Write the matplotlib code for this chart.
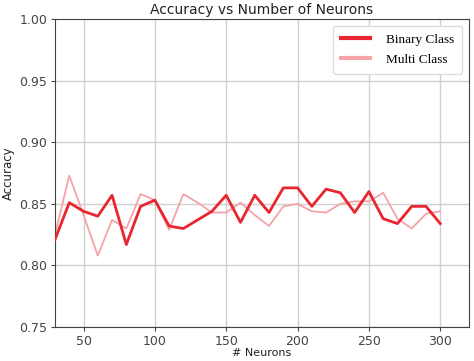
import numpy as np
import matplotlib
matplotlib.use("Agg")
import matplotlib.pyplot as plt

# number of neurons in the hidden layer
neurons = list(range(30, 301, 10))

# accuracy
binary_acc = [0.821, 0.851, 0.844, 0.840, 0.857, 0.817, 0.848, 0.853, 0.832, 0.830,
              0.837, 0.844, 0.857, 0.835, 0.857, 0.843, 0.863, 0.863, 0.848, 0.862,
              0.859, 0.843, 0.860, 0.838, 0.834, 0.848, 0.848, 0.834]
multi_acc = [0.825, 0.873, 0.841, 0.808, 0.837, 0.830, 0.858, 0.853, 0.829, 0.858,
             0.851, 0.843, 0.843, 0.851, 0.841, 0.832, 0.848, 0.850, 0.844, 0.843,
             0.850, 0.852, 0.852, 0.859, 0.838, 0.830, 0.842, 0.844]

fig = plt.figure(figsize=(4.74, 3.61), dpi=100)
ax = fig.add_axes([0.116, 0.094, 0.873, 0.853])

ax.plot(neurons, binary_acc, color="#e8262f", lw=2.0, label="Binary Class", zorder=3)
ax.plot(neurons, multi_acc, color="#f5a3a8", lw=1.3, label="Multi Class", zorder=2)

ax.set_xlim(30, 320)
ax.set_ylim(0.75, 1.00)
ax.set_xticks([50, 100, 150, 200, 250, 300])
ax.set_yticks([0.75, 0.80, 0.85, 0.90, 0.95, 1.00])
ax.yaxis.set_major_formatter(matplotlib.ticker.FormatStrFormatter("%.2f"))
ax.grid(True, color="#d0d0d0", lw=1.0)
ax.tick_params(labelsize=9, colors="#444444", length=3, pad=2.5)
for s in ax.spines.values():
    s.set_color("#444444")

ax.set_title("Accuracy vs Number of Neurons", fontsize=10, color="#222222", pad=4)
ax.set_xlabel("# Neurons", fontsize=8, color="#222222", labelpad=0)
ax.set_ylabel("Accuracy", fontsize=8.5, color="#222222", labelpad=3)

leg = ax.legend(loc="upper right", prop={"family": "Liberation Serif", "size": 9.5},
                handlelength=2.2, handletextpad=1.2, labelspacing=0.6,
                borderpad=0.6, framealpha=1.0, edgecolor="#dddddd")
for h in leg.get_lines():
    h.set_linewidth(3)

fig.savefig("out.png", dpi=100)
